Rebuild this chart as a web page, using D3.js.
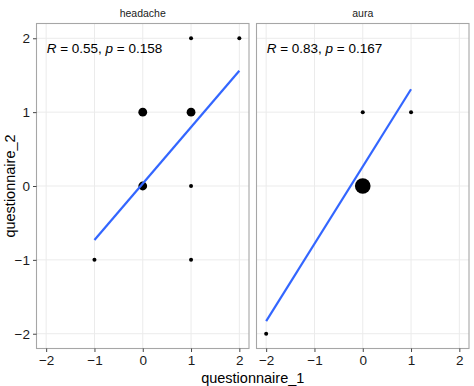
<!DOCTYPE html>
<html>
<head>
<meta charset="utf-8"/>
<script src="https://d3js.org/d3.v7.min.js"></script>
<style>
  body { margin:0; background:#fff; }
  text { font-family: "Liberation Sans", Arial, sans-serif; }
</style>
</head>
<body>
<div id="chart"></div>
<script>
// data
var panels = ["headache", "aura"];
var statsText = [["0.55", "0.158"], ["0.83", "0.167"]];
var headacheX = [-1, 0, 0, 1, 1, 1, 1, 2];
var headacheY = [-1, 0, 1, 1, 0, -1, 2, 2];
var headacheN = [1, 2, 2, 2, 1, 1, 1, 1];
var auraX = [-2, 0, 0, 1];
var auraY = [-2, 0, 1, 1];
var auraN = [1, 4, 1, 1];
// fitted line end points
var headacheFit = [[-1, -0.73], [2, 1.56]];
var auraFit = [[-2, -1.83], [1, 1.31]];
var ticks = [-2, -1, 0, 1, 2];

var width = 474, height = 386;
var svg = d3.select("#chart").append("svg").attr("width", width).attr("height", height);

var panelTop = 23.5, panelBottom = 348.5;
var panelLeft = [36.5, 256.5], panelW = 212.5;

var y = d3.scaleLinear().domain([-2.2, 2.2]).range([panelBottom, panelTop]);
var r = d3.scaleSqrt().domain([1, 4]).range([2, 7.8]);

var sets = [
  {x: headacheX, y: headacheY, n: headacheN, fit: headacheFit},
  {x: auraX, y: auraY, n: auraN, fit: auraFit}
];

panels.forEach(function(name, i) {
  var x = d3.scaleLinear().domain([-2.2, 2.2]).range([panelLeft[i], panelLeft[i] + panelW]);
  var g = svg.append("g");

  // grid
  g.selectAll(".gx").data(ticks).enter().append("line")
    .attr("x1", function(d){ return x(d); }).attr("x2", function(d){ return x(d); })
    .attr("y1", panelTop).attr("y2", panelBottom)
    .attr("stroke", "#ebebeb").attr("stroke-width", 1);
  g.selectAll(".gy").data(ticks).enter().append("line")
    .attr("y1", function(d){ return y(d); }).attr("y2", function(d){ return y(d); })
    .attr("x1", panelLeft[i]).attr("x2", panelLeft[i] + panelW)
    .attr("stroke", "#ebebeb").attr("stroke-width", 1);

  // points
  var s = sets[i];
  var pts = s.x.map(function(v, k){ return {x: v, y: s.y[k], n: s.n[k]}; });
  g.selectAll("circle").data(pts).enter().append("circle")
    .attr("cx", function(d){ return x(d.x); })
    .attr("cy", function(d){ return y(d.y); })
    .attr("r", function(d){ return r(d.n); })
    .attr("fill", "#000");

  // regression line
  g.append("path")
    .attr("d", d3.line().x(function(d){ return x(d[0]); }).y(function(d){ return y(d[1]); })(s.fit))
    .attr("stroke", "#3366ff").attr("stroke-width", 2.2).attr("fill", "none");

  // border
  g.append("rect").attr("x", panelLeft[i]).attr("y", panelTop)
    .attr("width", panelW).attr("height", panelBottom - panelTop)
    .attr("fill", "none").attr("stroke", "#a6a6a6").attr("stroke-width", 1.1);

  // strip label
  g.append("text").attr("x", panelLeft[i] + panelW / 2).attr("y", 17)
    .attr("text-anchor", "middle").attr("font-size", 10.5).attr("fill", "#1a1a1a").text(name);

  // stats label
  var t = g.append("text").attr("x", x(-2) + 0.5).attr("y", 53).attr("font-size", 13.5).attr("fill", "#000");
  t.append("tspan").attr("font-style", "italic").text("R");
  t.append("tspan").text(" = " + statsText[i][0] + ", ");
  t.append("tspan").attr("font-style", "italic").text("p");
  t.append("tspan").text(" = " + statsText[i][1]);

  // x axis
  var ax = g.append("g").attr("transform", "translate(0," + panelBottom + ")")
    .call(d3.axisBottom(x).tickValues(ticks).tickSize(3.5).tickPadding(3).tickFormat(d3.format("d")));
  ax.select(".domain").remove();
  ax.selectAll("line").attr("stroke", "#444");
  ax.selectAll("text").attr("font-size", 13.5).attr("fill", "#1a1a1a")
    .style("font-family", "Liberation Sans, Arial, sans-serif");
});

// y axis on the left panel
var ay = svg.append("g").attr("transform", "translate(" + panelLeft[0] + ",0)")
  .call(d3.axisLeft(y).tickValues(ticks).tickSize(3.5).tickPadding(3).tickFormat(d3.format("d")));
ay.select(".domain").remove();
ay.selectAll("line").attr("stroke", "#444");
ay.selectAll("text").attr("font-size", 13.5).attr("fill", "#1a1a1a")
  .style("font-family", "Liberation Sans, Arial, sans-serif");

// axis titles
svg.append("text").attr("x", (panelLeft[0] + panelLeft[1] + panelW) / 2).attr("y", 383)
  .attr("text-anchor", "middle").attr("font-size", 14.5).attr("fill", "#000").text("questionnaire_1");
svg.append("text").attr("transform", "translate(15," + ((panelTop + panelBottom) / 2) + ") rotate(-90)")
  .attr("text-anchor", "middle").attr("font-size", 14.5).attr("fill", "#000").text("questionnaire_2");
</script>
</body>
</html>
